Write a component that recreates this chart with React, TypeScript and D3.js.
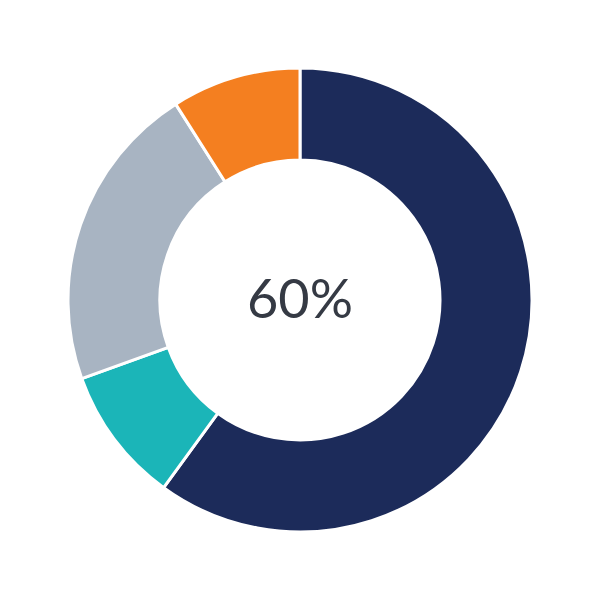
import * as React from 'react'
import { pie, arc, PieArcDatum } from 'd3'

const categories = ['Navy', 'Teal', 'Gray', 'Orange']
const values = [60, 9.5, 21.5, 9]
const colors = ['#1c2b5a', '#1bb5b8', '#a8b4c2', '#f47f20']
const centerLabel = '60%'

const width = 600
const height = 600
const outerRadius = 232
const innerRadius = 140

function App() {
  const createPie = pie<number>()
    .value((d) => d)
    .sort(null)
  const createArc = arc<PieArcDatum<number>>().innerRadius(innerRadius).outerRadius(outerRadius)
  const arcs = createPie(values)

  return (
    <svg width={width} height={height} style={{ position: 'absolute', left: 0, top: 0 }}>
      <rect width={width} height={height} fill="#ffffff" />
      <g transform={`translate(${width / 2}, ${height / 2})`}>
        {arcs.map((d, i) => (
          <path
            key={categories[i]}
            d={createArc(d) ?? ''}
            fill={colors[i]}
            stroke="#ffffff"
            strokeWidth={3}
          />
        ))}
        <text
          y={-3}
          textAnchor="middle"
          dominantBaseline="central"
          fill="#353a44"
          style={{ fontFamily: 'Lato, sans-serif', fontSize: 54, fontWeight: 400 }}
        >
          {centerLabel}
        </text>
      </g>
    </svg>
  )
}

export default App
